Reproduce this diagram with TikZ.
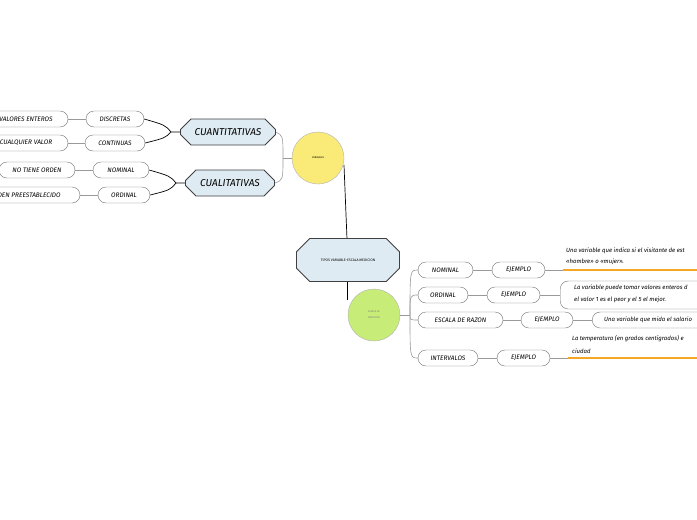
\documentclass[tikz,border=0pt]{standalone}
\usepackage{fontspec}
\setmainfont{Fira Sans}
\usetikzlibrary{shapes.geometric,shapes.misc}
\definecolor{hexfill}{HTML}{DEEBF2}
\definecolor{yel}{HTML}{FAEB78}
\definecolor{grn}{HTML}{C8EC78}
\definecolor{orng}{HTML}{F5A623}
\tikzset{
 pill/.style={draw=black!55,rounded corners=8pt,minimum height=16pt,inner sep=0pt,font=\itshape\fontsize{6.5}{7}\selectfont,fill=white},
 hexbox/.style={draw=black!75,line width=0.9pt,fill=hexfill,chamfered rectangle,chamfered rectangle xsep=7pt,chamfered rectangle ysep=7pt,chamfered rectangle corners={north west,south west,north east,south east},inner sep=0pt},
 circ/.style={circle,draw=black!30,minimum size=52pt,inner sep=0pt,font=\fontsize{2.5}{3}\selectfont},
 conn/.style={draw=black!40,line width=0.6pt},
 dconn/.style={draw=black,line width=0.7pt},
 ex/.style={anchor=west,font=\itshape\fontsize{6}{7}\selectfont,inner sep=0pt},
}
\begin{document}
\begin{tikzpicture}[x=1pt,y=-1pt]
\useasboundingbox (0,0) rectangle (697,520);
\path[fill=white] (0,0) rectangle (697,520);
% connectors first
\draw[dconn] (344,165) -- (347,239);
\draw[dconn] (347,282) -- (347,300);
\coordinate (b1) at (283,158);
\draw[conn] (292,158) -- (b1);
\draw[conn] (b1) .. controls (283,135) .. (275,132);
\draw[conn] (b1) .. controls (283,180) .. (275,183);
\draw[conn] (400,315) -- (410,315);
\foreach \y in {270,295,320,358}{\draw[conn] (410,315) .. controls (410,\y) .. (418,\y);}
% left
\node[hexbox,minimum width=95pt,minimum height=26pt,font=\itshape\fontsize{10}{11}\selectfont] (cuan) at (228,132) {CUANTITATIVAS};
\node[hexbox,minimum width=89pt,minimum height=26pt,font=\itshape\fontsize{10}{11}\selectfont] (cual) at (230,183) {CUALITATIVAS};
\node[pill,minimum width=58pt] (disc) at (115,119) {DISCRETAS};
\node[pill,minimum width=60pt] (cont) at (115,143) {CONTINUAS};
\node[pill,minimum width=84pt] (ve) at (26,119) {VALORES ENTEROS};
\node[pill,minimum width=84pt] (cv) at (26,143) {CUALQUIER VALOR};
\node[pill,minimum width=56pt] (nom) at (121,170) {NOMINAL};
\node[pill,minimum width=52pt] (ord) at (124,195) {ORDINAL};
\node[pill,minimum width=76pt] (nto) at (37,170) {NO TIENE ORDEN};
\node[pill,minimum width=110pt] (op) at (25,195) {ORDEN PREESTABLECIDO};
\draw[conn] (ve) -- (disc); \draw[conn] (cv) -- (cont);
\draw[conn] (nto) -- (nom); \draw[conn] (op) -- (ord);
\draw[dconn] (disc.east) .. controls (165,125) .. (171,132) -- (cuan.west);
\draw[dconn] (cont.east) .. controls (165,138) .. (171,132);
\draw[dconn] (nom.east) .. controls (170,176) .. (176,183) -- (cual.west);
\draw[dconn] (ord.east) .. controls (170,190) .. (176,183);
% centre
\node[circ,fill=yel] (var) at (318,158) {VARIABLES};
\node[hexbox,minimum width=103pt,minimum height=43pt,chamfered rectangle xsep=9pt,chamfered rectangle ysep=12pt,font=\fontsize{3.5}{4}\selectfont] (main) at (348,260) {TIPOS VARIABLE-ESCALA MEDICION};
\node[circ,fill=grn,align=center,text=black!50] (esc) at (374,315) {ESCALA DE\\[3pt]MEDICION};
% right
\node[pill,minimum width=55pt] (n2) at (445.5,270) {NOMINAL};
\node[pill,minimum width=53pt] (e1) at (518.5,270) {EJEMPLO};
\node[pill,minimum width=50pt] (o2) at (443,295) {ORDINAL};
\node[pill,minimum width=53pt] (e2) at (513.5,295) {EJEMPLO};
\node[pill,minimum width=85pt] (r2) at (460.5,320) {ESCALA DE RAZON};
\node[pill,minimum width=52pt] (e3) at (547,320) {EJEMPLO};
\node[pill,minimum width=60pt] (i2) at (448,358) {INTERVALOS};
\node[pill,minimum width=53pt] (e4) at (523.5,358) {EJEMPLO};
\foreach \a/\b in {n2/e1,o2/e2,r2/e3,i2/e4}{\draw[conn] (\a) -- (\b);}
\node[pill,minimum width=150pt,minimum height=28pt,anchor=west] (t2) at (560,295) {};
\node[pill,minimum width=120pt,anchor=west] (t3) at (592,320) {};
\coordinate (t1) at (563,270); \coordinate (t4) at (568,358);
\draw[conn] (e1) -- (t1); \draw[conn] (e2) -- (t2); \draw[conn] (e3) -- (t3); \draw[conn] (e4) -- (t4);
\draw[orng,line width=1.2pt] (t1) -- (697,270);
\draw[orng,line width=1.2pt] (t4) -- (697,358);
\node[ex] at (566,251) {Una variable que indica si el visitante de est};
\node[ex] at (566,262) {«hombre» o «mujer».};
\node[ex] at (574,288) {La variable puede tomar valores enteros d};
\node[ex] at (574,300) {el valor 1 es el peor y el 5 el mejor.};
\node[ex] at (604,320) {Una variable que mida el salario};
\node[ex] at (572,339) {La temperatura (en grados centígrados) e};
\node[ex] at (572,351) {ciudad};
\end{tikzpicture}
\end{document}
